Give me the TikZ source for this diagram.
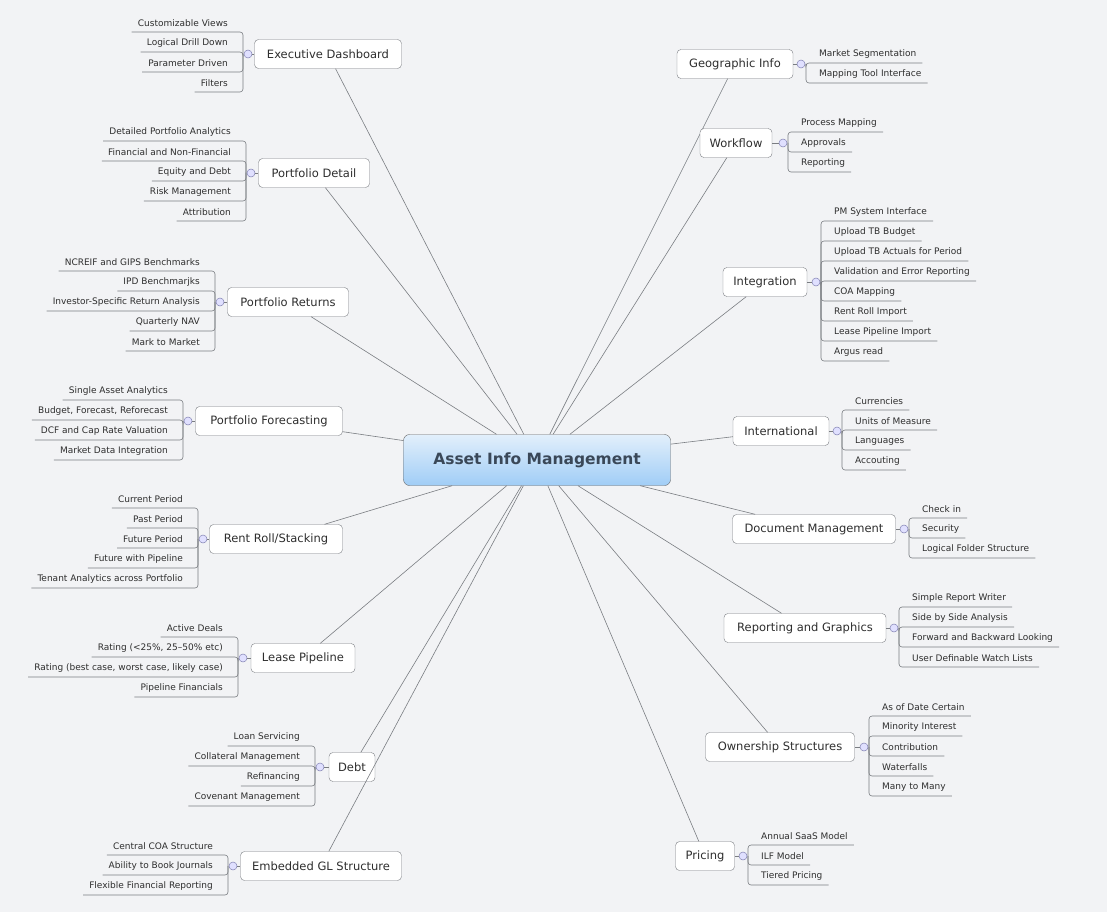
\documentclass[tikz,border=0pt]{standalone}
\usepackage{fontspec}
\setmainfont{DejaVu Sans}
\usetikzlibrary{calc}
\definecolor{bg}{HTML}{F2F3F5}
\definecolor{lnk}{HTML}{7A7D82}
\definecolor{txt}{HTML}{2E2E2E}
\tikzset{x=1pt,y=-1pt,
 leaf/.style={font=\fontsize{9}{10}\selectfont, inner xsep=6pt, inner ysep=1pt, text=txt},
 topic/.style={draw=lnk, rounded corners=4pt, fill=white, font=\fontsize{11.5}{13}\selectfont, minimum height=29pt, inner xsep=4pt, text=txt},
 link/.style={draw=lnk, line width=0.6pt},
 knob/.style={circle, draw=blue!25!gray!80, fill=blue!12, inner sep=0pt, minimum size=8pt, line width=0.5pt},
 hub/.style={draw=gray!80!black, rounded corners=6pt, top color={rgb,255:red,226;green,239;blue,251}, bottom color={rgb,255:red,160;green,205;blue,246}, minimum width=267pt, minimum height=51pt, font=\fontsize{15.5}{18}\bfseries, text={rgb,255:red,58;green,72;blue,88}}
}
\newcommand\lbr[7]{%
 \node[topic,minimum width=#5pt] (#1) at (#3,#4) {#2};
 \draw[link] (hub) -- (#1);
 \foreach \yy/\lab [count=\k] in {#7} {
   \node[leaf,anchor=east] (#1-\k) at (#6-9,\yy) {\lab};
   \draw[link,rounded corners=3pt] ($(#1-\k.west)+(0,9)$) -- (#6,\yy+9) -- (#6,#4);
 }
 \node[knob] (#1-c) at (#6+5,#4) {};
 \draw[link] (#1-c) -- (#1);
}
\newcommand\rbr[7]{%
 \node[topic,minimum width=#5pt] (#1) at (#3,#4) {#2};
 \draw[link] (hub) -- (#1);
 \foreach \yy/\lab [count=\k] in {#7} {
   \node[leaf,anchor=west] (#1-\k) at (#6+7,\yy) {\lab};
   \draw[link,rounded corners=3pt] ($(#1-\k.east)+(0,9)$) -- (#6,\yy+9) -- (#6,#4);
 }
 \node[knob] (#1-c) at (#6-5,#4) {};
 \draw[link] (#1-c) -- (#1);
}
\begin{document}
\begin{tikzpicture}
\fill[bg] (0,0) rectangle (1107,912);
\useasboundingbox (0,0) rectangle (1107,912);
\node[hub] (hub) at (537,460) {Asset Info Management};
\lbr{ed}{Executive Dashboard}{328}{54}{147}{243}{23/Customizable Views,43/Logical Drill Down,63/Parameter Driven,83/Filters}
\lbr{pd}{Portfolio Detail}{314}{173}{111}{246}{132/Detailed Portfolio Analytics,152/Financial and Non-Financial,172/Equity and Debt,192/Risk Management,212/Attribution}
\lbr{pr}{Portfolio Returns}{288}{302}{121}{215}{262/NCREIF and GIPS Benchmarks,282/IPD Benchmarjks,302/Investor-Specific Return Analysis,322/Quarterly NAV,342/Mark to Market}
\lbr{pf}{Portfolio Forecasting}{269}{421}{147}{183}{391/Single Asset Analytics,411/{Budget, Forecast, Reforecast},431/DCF and Cap Rate Valuation,451/Market Data Integration}
\lbr{rr}{Rent Roll/Stacking}{276}{539}{133}{198}{499/Current Period,519/Past Period,539/Future Period,559/Future with Pipeline,579/Tenant Analytics across Portfolio}
\lbr{lp}{Lease Pipeline}{303}{658}{104}{238}{628/Active Deals,648/{Rating (<25\%, 25--50\% etc)},668/{Rating (best case, worst case, likely case)},688/Pipeline Financials}
\lbr{db}{Debt}{352}{767}{46}{315}{737/Loan Servicing,757/Collateral Management,777/Refinancing,797/Covenant Management}
\lbr{gl}{Embedded GL Structure}{321}{866}{161}{228}{846/Central COA Structure,866/Ability to Book Journals,886/Flexible Financial Reporting}
\rbr{gi}{Geographic Info}{735}{64}{116}{806}{54/Market Segmentation,74/Mapping Tool Interface}
\rbr{wf}{Workflow}{736}{143}{72}{788}{123/Process Mapping,143/Approvals,163/Reporting}
\rbr{in}{Integration}{765}{282}{84}{821}{212/PM System Interface,232/Upload TB Budget,252/Upload TB Actuals for Period,272/Validation and Error Reporting,292/COA Mapping,312/Rent Roll Import,332/Lease Pipeline Import,352/Argus read/write}
\rbr{it}{International}{781}{431}{96}{842}{401/Currencies,421/Units of Measure,441/Languages,461/Accouting/Reporting}
\rbr{dm}{Document Management}{814}{529}{163}{909}{509/Check in/out,529/Security/Permissioning,549/Logical Folder Structure}
\rbr{rg}{Reporting and Graphics}{805}{628}{162}{899}{598/Simple Report Writer,618/Side by Side Analysis,638/Forward and Backward Looking,658/User Definable Watch Lists / Filters}
\rbr{os}{Ownership Structures}{780}{747}{149}{869}{707/As of Date Certain,727/Minority Interest,747/Contribution/Distribution,767/Waterfalls,787/Many to Many}
\rbr{pc}{Pricing}{705}{856}{59}{748}{836/Annual SaaS Model,856/ILF Model,876/Tiered Pricing}
\end{tikzpicture}
\end{document}
